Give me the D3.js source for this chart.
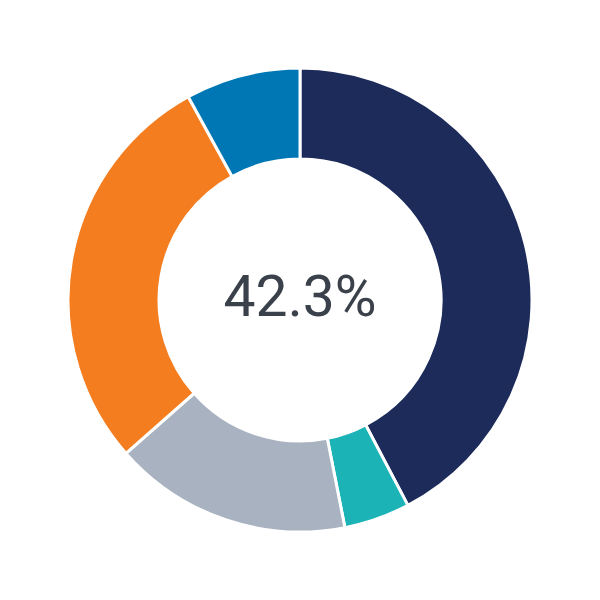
<!DOCTYPE html>
<html>
<head>
<meta charset="utf-8">
<script src="https://cdn.jsdelivr.net/npm/d3@7"></script>
<style>
  body { margin: 0; background: #fff; }
</style>
</head>
<body>
<div id="chart"></div>
<script>
// slice values (percent), clockwise from 12 o'clock
var categories = ['A', 'B', 'C', 'D', 'E'];
var values = [42.3, 4.6, 16.6, 28.5, 8.0];
var colors = ['#1c2b5a', '#1bb3b6', '#a8b2c0', '#f47d20', '#0077b5'];
var centerLabel = '42.3%';

var width = 600,
    height = 600,
    outerR = 232,
    innerR = 141;

var svg = d3.select('#chart').append('svg')
    .attr('width', width)
    .attr('height', height)
    .append('g')
    .attr('transform', 'translate(' + width / 2 + ',' + height / 2 + ')');

var pie = d3.pie().sort(null).value(function(d) { return d; });
var arc = d3.arc().innerRadius(innerR).outerRadius(outerR);

svg.selectAll('.slice')
    .data(pie(values))
    .enter().append('path')
    .attr('class', 'slice')
    .attr('d', arc)
    .attr('fill', function(d, i) { return colors[i]; })
    .attr('stroke', '#fff')
    .attr('stroke-width', 3);

// big number in the hole
svg.append('text')
    .attr('text-anchor', 'middle')
    .attr('y', -4)
    .attr('dy', '0.35em')
    .attr('font-family', 'Roboto, sans-serif')
    .attr('font-weight', 400)
    .attr('font-size', 57)
    .attr('fill', '#3a414b')
    .text(centerLabel);
</script>
</body>
</html>
